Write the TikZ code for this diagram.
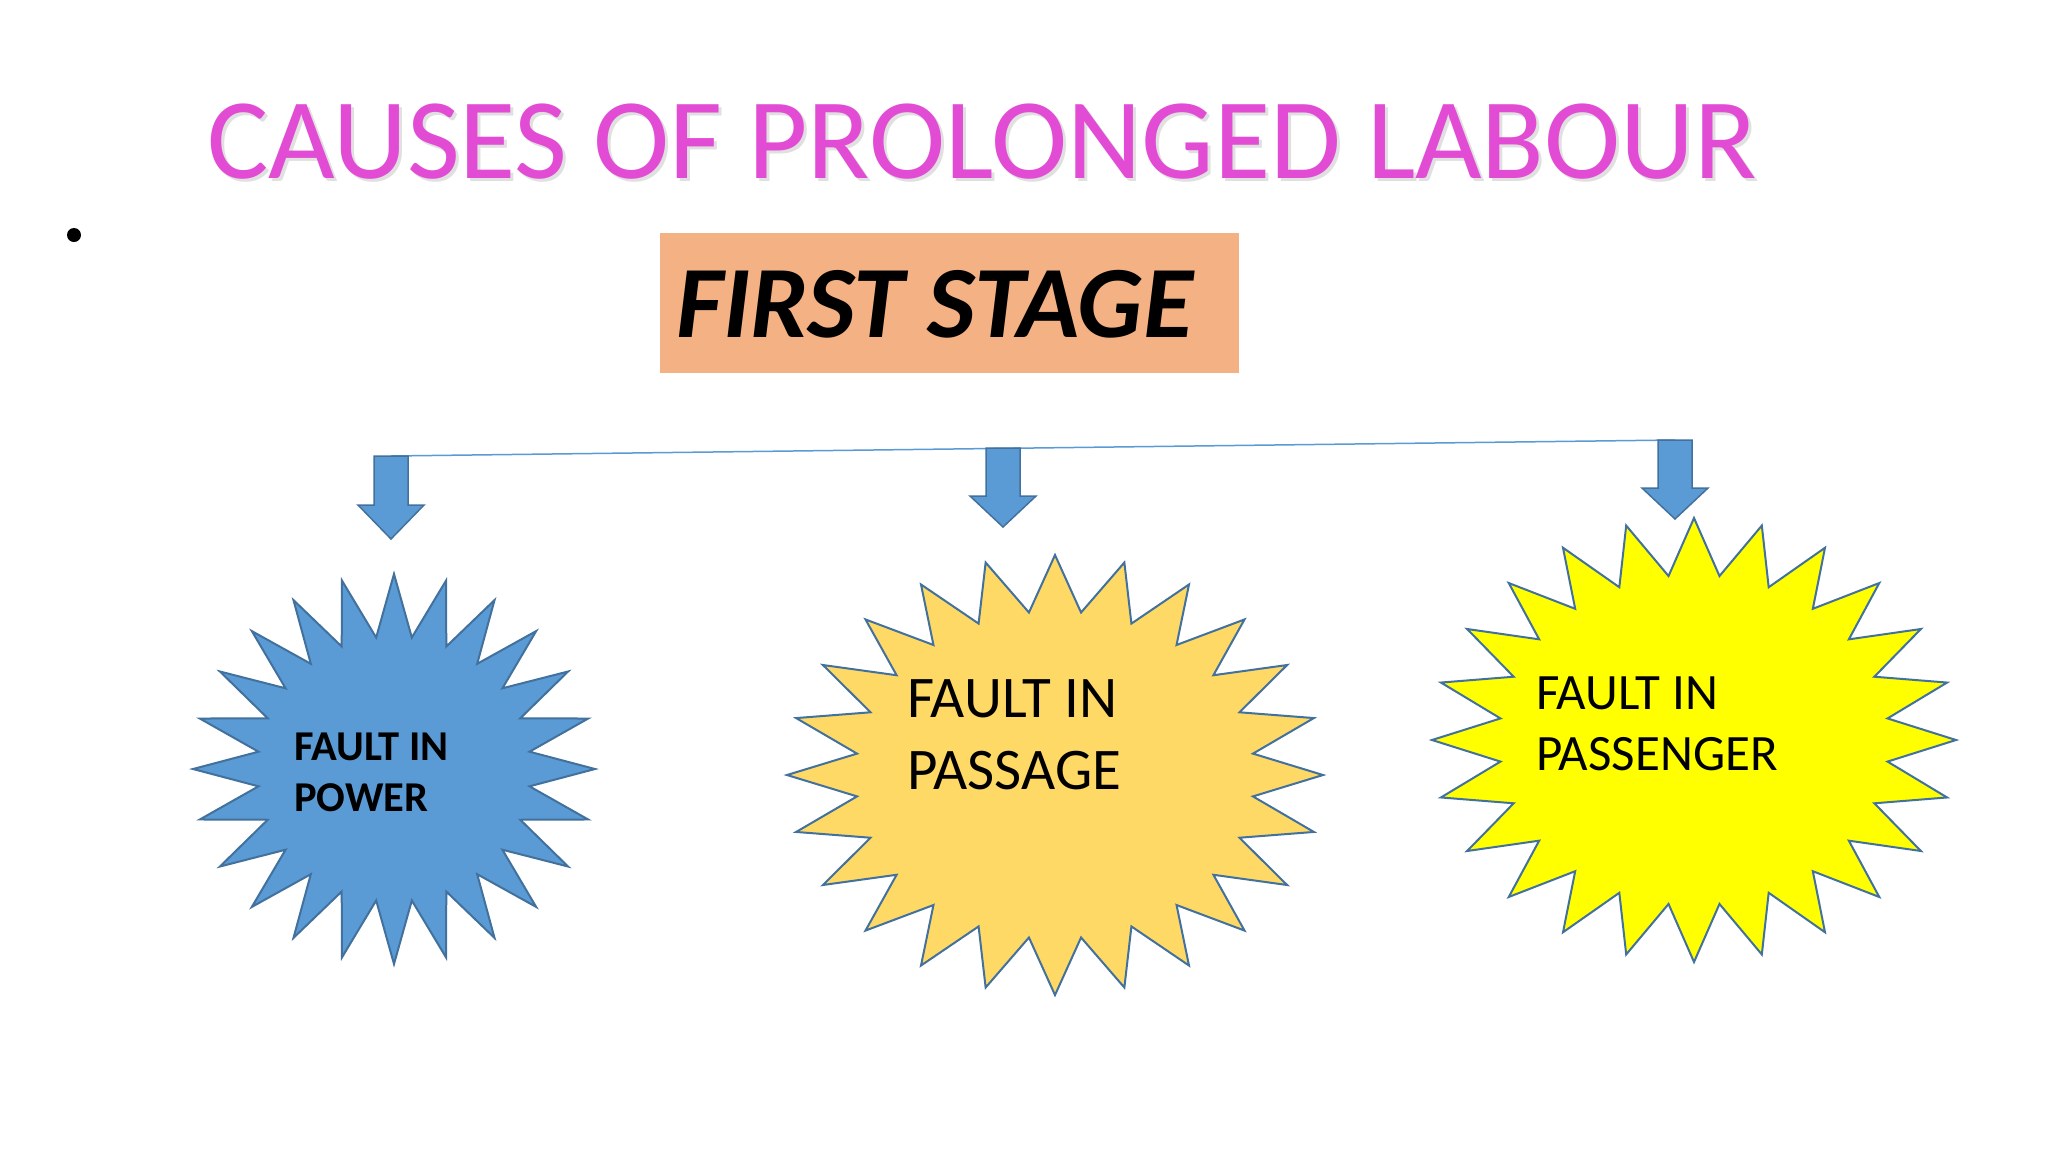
\documentclass[tikz,border=0pt]{standalone}
\usepackage{fontspec}
\setmainfont{Carlito}
\definecolor{titlepink}{RGB}{226,76,212}
\definecolor{accblue}{RGB}{91,155,213}
\definecolor{edgeblue}{RGB}{65,113,156}
\definecolor{peach}{RGB}{244,177,131}
\definecolor{gold}{RGB}{255,217,102}
\definecolor{brightyellow}{RGB}{255,255,0}
\newcommand{\starburst}[6]{%
  \filldraw[fill=#6, draw=edgeblue, line width=2, line join=miter]
    ({#1+#3},{#2}) \foreach \i in {1,...,47} {
      -- ({#1+#3*(1-(1-#5)*mod(\i,2))*cos(7.5*\i)},{#2+#4*(1-(1-#5)*mod(\i,2))*sin(7.5*\i)}) } -- cycle;}
\newcommand{\downblock}[4]{%
  \filldraw[fill=accblue, draw=edgeblue, line width=1.5, line join=miter]
    ({#1-17},{#2}) -- ({#1+17},{#2}) -- ({#1+17},{#3}) -- ({#1+33},{#3}) -- ({#1},{#4})
    -- ({#1-33},{#3}) -- ({#1-17},{#3}) -- cycle;}
\tikzset{
  linetext/.style={anchor=base west, inner sep=0, text=black},
}
\begin{document}
\begin{tikzpicture}[x=1pt,y=-1pt]
\useasboundingbox (0,0) rectangle (2048,1152);
\fill[white] (0,0) rectangle (2048,1152);
% title
\node[anchor=base west, inner sep=0, font=\fontsize{115}{120}\selectfont, text=black!12] at (210,181) {CAUSES OF PROLONGED LABOUR};
\node[anchor=base west, inner sep=0, font=\fontsize{115}{120}\selectfont, text=titlepink] (title) at (207,178) {CAUSES OF PROLONGED LABOUR};
% bullet
\fill[black] (74,235) circle (7);
% stage box
\node[fill=peach, minimum width=579, minimum height=140, anchor=north west, inner sep=0] (stagebox) at (660,233) {};
\node[linetext, font=\fontsize{102.5}{110}\selectfont\bfseries\itshape] (stagetext) at (676,337) {FIRST STAGE};
% connector line between arrow tops
\coordinate (topL) at (391,456);
\coordinate (topM) at (1003,448);
\coordinate (topR) at (1675,440);
\draw[accblue, line width=1.5] (topL) -- (topR);
% block arrows
\downblock{391}{456}{505}{539}
\downblock{1003}{448}{496}{527}
\downblock{1675}{440}{488}{519}
% stars
\starburst{394}{769}{201}{195}{0.68}{accblue}
\starburst{1055}{775}{268}{220}{0.745}{gold}
\starburst{1694}{740}{262}{222}{0.745}{brightyellow}
% star texts
\node[linetext, font=\fontsize{42.5}{48}\selectfont\bfseries] (powerA) at (294,760) {FAULT IN};
\node[linetext, font=\fontsize{42.5}{48}\selectfont\bfseries] (powerB) at (294,811) {POWER};
\node[linetext, font=\fontsize{59}{66}\selectfont] (passageA) at (907,717) {FAULT IN};
\node[linetext, font=\fontsize{59}{66}\selectfont] (passageB) at (907,789) {PASSAGE};
\node[linetext, font=\fontsize{51}{58}\selectfont] (passengerA) at (1536,709) {FAULT IN};
\node[linetext, font=\fontsize{51}{58}\selectfont] (passengerB) at (1536,770) {PASSENGER};
\end{tikzpicture}
\end{document}
